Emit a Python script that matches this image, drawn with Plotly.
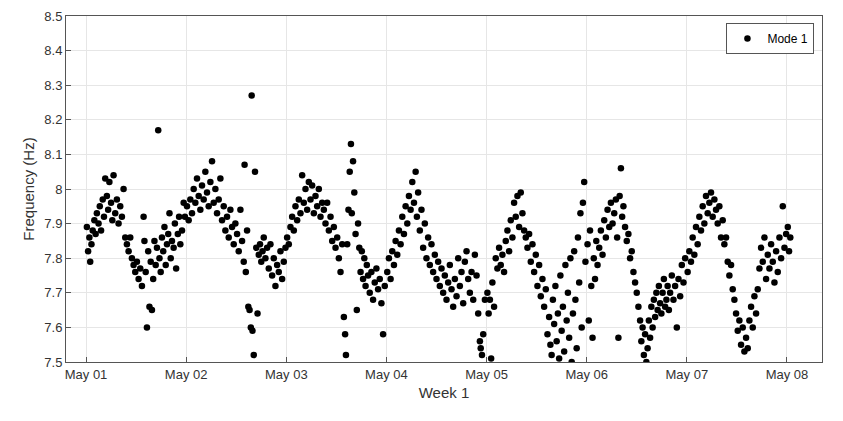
import pandas as pd
import plotly.graph_objects as go

# hours after midnight of each day, frequency in Hz
day1_h = [0.2, 0.5, 0.8, 1.0, 1.3, 1.6, 2.0, 2.3, 2.6, 3.0, 3.3, 3.6, 4.0, 4.3, 4.6, 5.0, 5.3, 5.6, 6.0, 6.3, 6.6, 7.0, 7.4, 7.8, 8.2, 8.6, 9.0, 9.4, 9.8, 10.2, 10.6, 11.0, 11.4, 11.8, 12.2, 12.6, 13.0, 13.4, 13.8, 14.0, 14.3, 14.6, 14.9, 15.2, 15.5, 15.8, 16.1, 16.4, 16.7, 17.0, 17.3, 17.6, 17.9, 18.2, 18.5, 18.8, 19.1, 19.4, 19.7, 20.0, 20.3, 20.6, 21.0, 21.3, 21.6, 22.0, 22.3, 22.6, 23.0, 23.4, 23.7]
day1_f = [7.89, 7.82, 7.86, 7.79, 7.84, 7.88, 7.91, 7.87, 7.93, 7.90, 7.95, 7.88, 7.97, 7.92, 8.03, 7.98, 7.94, 8.02, 7.96, 7.91, 8.04, 7.93, 7.97, 7.90, 7.95, 7.92, 8.00, 7.86, 7.84, 7.82, 7.86, 7.80, 7.78, 7.76, 7.79, 7.74, 7.77, 7.72, 7.92, 7.85, 7.76, 7.60, 7.82, 7.66, 7.79, 7.65, 7.74, 7.85, 7.78, 7.83, 8.17, 7.80, 7.76, 7.86, 7.82, 7.89, 7.78, 7.84, 7.87, 7.93, 7.80, 7.85, 7.83, 7.90, 7.77, 7.87, 7.92, 7.84, 7.88, 7.96, 7.92]

day2_h = [0.2, 0.6, 1.0, 1.4, 1.8, 2.2, 2.6, 3.0, 3.4, 3.8, 4.2, 4.6, 5.0, 5.4, 5.8, 6.2, 6.6, 7.0, 7.4, 7.8, 8.2, 8.6, 9.0, 9.4, 9.8, 10.2, 10.6, 11.0, 11.4, 11.8, 12.2, 12.6, 13.0, 13.4, 13.8, 14.0, 14.3, 14.6, 14.9, 15.2, 15.5, 15.7, 15.9, 16.2, 16.5, 16.8, 17.1, 17.4, 17.7, 18.0, 18.3, 18.6, 19.0, 19.4, 19.8, 20.2, 20.6, 21.0, 21.4, 21.8, 22.2, 22.6, 23.0, 23.4, 23.8]
day2_f = [7.95, 7.91, 7.97, 7.93, 8.00, 7.96, 8.03, 7.98, 7.94, 8.01, 7.97, 8.05, 7.99, 7.95, 8.02, 8.08, 7.96, 8.00, 7.93, 7.97, 8.03, 7.91, 7.95, 7.88, 7.92, 7.86, 7.94, 7.89, 7.84, 7.90, 7.87, 7.82, 7.94, 7.85, 7.79, 8.07, 7.76, 7.88, 7.66, 7.65, 7.60, 8.27, 7.59, 7.52, 8.05, 7.83, 7.64, 7.81, 7.84, 7.79, 7.82, 7.86, 7.80, 7.83, 7.77, 7.84, 7.75, 7.80, 7.72, 7.78, 7.76, 7.82, 7.74, 7.79, 7.83]

day3_h = [0.2, 0.6, 1.0, 1.4, 1.8, 2.2, 2.6, 3.0, 3.4, 3.8, 4.2, 4.6, 5.0, 5.4, 5.8, 6.2, 6.6, 7.0, 7.4, 7.8, 8.2, 8.6, 9.0, 9.4, 9.8, 10.2, 10.6, 11.0, 11.4, 11.8, 12.2, 12.6, 13.0, 13.4, 13.8, 14.1, 14.3, 14.6, 14.9, 15.2, 15.5, 15.7, 16.0, 16.3, 16.6, 16.9, 17.2, 17.5, 17.8, 18.1, 18.4, 18.7, 19.0, 19.3, 19.6, 20.0, 20.4, 20.8, 21.2, 21.6, 22.0, 22.4, 22.8, 23.2, 23.6]
day3_f = [7.86, 7.84, 7.89, 7.92, 7.88, 7.95, 7.91, 7.97, 7.93, 8.04, 7.96, 8.00, 7.94, 8.02, 7.97, 8.01, 7.93, 7.98, 7.95, 8.00, 7.92, 7.96, 7.94, 7.90, 7.96, 7.88, 7.92, 7.85, 7.89, 7.83, 7.86, 7.80, 7.76, 7.84, 7.63, 7.58, 7.52, 7.84, 7.94, 8.05, 8.13, 7.93, 8.08, 7.99, 7.87, 7.65, 7.90, 7.83, 7.76, 7.82, 7.74, 7.80, 7.72, 7.78, 7.75, 7.70, 7.76, 7.68, 7.73, 7.77, 7.71, 7.74, 7.67, 7.58, 7.72]

day4_h = [0.2, 0.6, 1.0, 1.4, 1.8, 2.2, 2.6, 3.0, 3.4, 3.8, 4.2, 4.6, 5.0, 5.4, 5.8, 6.2, 6.6, 7.0, 7.3, 7.6, 8.0, 8.4, 8.8, 9.2, 9.6, 10.0, 10.4, 10.8, 11.2, 11.6, 12.0, 12.4, 12.8, 13.2, 13.6, 14.0, 14.4, 14.8, 15.2, 15.6, 16.0, 16.4, 16.8, 17.2, 17.6, 18.0, 18.4, 18.8, 19.2, 19.6, 20.0, 20.4, 20.8, 21.2, 21.6, 22.0, 22.4, 22.6, 22.9, 23.2, 23.6]
day4_f = [7.76, 7.80, 7.74, 7.82, 7.78, 7.85, 7.81, 7.88, 7.84, 7.92, 7.87, 7.95, 7.90, 7.98, 7.94, 8.02, 7.96, 8.05, 7.92, 7.99, 7.88, 7.94, 7.83, 7.90, 7.80, 7.86, 7.78, 7.84, 7.76, 7.81, 7.74, 7.79, 7.72, 7.77, 7.70, 7.75, 7.68, 7.73, 7.78, 7.71, 7.66, 7.74, 7.69, 7.80, 7.72, 7.76, 7.67, 7.79, 7.82, 7.74, 7.70, 7.76, 7.68, 7.81, 7.75, 7.64, 7.56, 7.54, 7.52, 7.58, 7.68]

day5_h = [0.2, 0.5, 0.8, 1.1, 1.4, 1.8, 2.2, 2.6, 3.0, 3.4, 3.8, 4.2, 4.6, 5.0, 5.4, 5.8, 6.2, 6.6, 7.0, 7.4, 7.8, 8.2, 8.6, 9.0, 9.4, 9.8, 10.2, 10.6, 11.0, 11.4, 11.8, 12.2, 12.6, 13.0, 13.4, 13.8, 14.2, 14.6, 15.0, 15.3, 15.6, 15.9, 16.2, 16.5, 16.8, 17.1, 17.4, 17.7, 18.0, 18.3, 18.6, 18.9, 19.2, 19.5, 19.8, 20.1, 20.4, 20.7, 21.0, 21.3, 21.6, 21.9, 22.2, 22.5, 22.8, 23.1, 23.4, 23.7]
day5_f = [7.70, 7.64, 7.68, 7.51, 7.73, 7.66, 7.80, 7.77, 7.83, 7.78, 7.81, 7.76, 7.85, 7.88, 7.82, 7.91, 7.86, 7.96, 7.92, 7.98, 7.89, 7.99, 7.93, 7.88, 7.86, 7.83, 7.87, 7.79, 7.84, 7.76, 7.81, 7.72, 7.78, 7.69, 7.74, 7.66, 7.71, 7.58, 7.63, 7.55, 7.52, 7.68, 7.61, 7.72, 7.56, 7.64, 7.51, 7.75, 7.59, 7.66, 7.53, 7.78, 7.62, 7.70, 7.57, 7.80, 7.50, 7.64, 7.82, 7.68, 7.54, 7.86, 7.73, 7.93, 7.60, 7.96, 8.02, 7.79]

day6_h = [0.2, 0.5, 0.8, 1.1, 1.4, 1.7, 2.0, 2.3, 2.6, 3.0, 3.4, 3.8, 4.2, 4.6, 5.0, 5.4, 5.8, 6.2, 6.6, 7.0, 7.3, 7.6, 7.9, 8.2, 8.5, 8.8, 9.2, 9.6, 10.0, 10.4, 10.8, 11.2, 11.6, 12.0, 12.4, 12.8, 13.1, 13.4, 13.7, 14.0, 14.3, 14.6, 14.9, 15.2, 15.5, 15.8, 16.1, 16.4, 16.7, 17.0, 17.3, 17.6, 17.9, 18.2, 18.5, 18.8, 19.1, 19.4, 19.7, 20.0, 20.4, 20.8, 21.2, 21.6, 22.0, 22.4, 22.8, 23.2, 23.6]
day6_f = [7.84, 7.62, 7.88, 7.72, 7.57, 7.80, 7.74, 7.85, 7.78, 7.83, 7.88, 7.81, 7.91, 7.86, 7.94, 7.89, 7.96, 7.90, 7.93, 7.97, 7.86, 7.57, 7.98, 8.06, 7.92, 7.95, 7.89, 7.85, 7.87, 7.80, 7.82, 7.76, 7.73, 7.70, 7.66, 7.62, 7.56, 7.60, 7.52, 7.58, 7.50, 7.54, 7.62, 7.57, 7.66, 7.60, 7.68, 7.63, 7.70, 7.65, 7.72, 7.67, 7.64, 7.70, 7.74, 7.66, 7.68, 7.72, 7.65, 7.70, 7.75, 7.68, 7.72, 7.60, 7.74, 7.69, 7.78, 7.73, 7.80]

day7_h = [0.2, 0.6, 1.0, 1.4, 1.8, 2.2, 2.6, 3.0, 3.4, 3.8, 4.2, 4.6, 5.0, 5.4, 5.8, 6.2, 6.6, 7.0, 7.4, 7.8, 8.2, 8.6, 9.0, 9.4, 9.8, 10.2, 10.6, 11.0, 11.4, 11.8, 12.2, 12.6, 13.0, 13.4, 13.8, 14.2, 14.6, 15.0, 15.4, 15.8, 16.2, 16.6, 17.0, 17.4, 17.8, 18.2, 18.6, 19.0, 19.4, 19.8, 20.2, 20.6, 21.0, 21.4, 21.8, 22.2, 22.6, 23.0, 23.4, 23.8]
day7_f = [7.76, 7.82, 7.79, 7.86, 7.81, 7.89, 7.84, 7.92, 7.88, 7.95, 7.90, 7.98, 7.93, 7.96, 7.99, 7.92, 7.97, 7.94, 7.90, 7.95, 7.86, 7.91, 7.84, 7.86, 7.79, 7.75, 7.78, 7.71, 7.68, 7.64, 7.59, 7.62, 7.55, 7.60, 7.53, 7.57, 7.54, 7.62, 7.66, 7.60, 7.69, 7.64, 7.71, 7.77, 7.83, 7.79, 7.86, 7.74, 7.81, 7.77, 7.84, 7.79, 7.73, 7.82, 7.76, 7.86, 7.80, 7.95, 7.83, 7.87]

day8_h = [0.2, 0.5, 0.8]
day8_f = [7.89, 7.82, 7.86]

DAY_HOURS = [day1_h, day2_h, day3_h, day4_h, day5_h, day6_h, day7_h, day8_h]
DAY_FREQS = [day1_f, day2_f, day3_f, day4_f, day5_f, day6_f, day7_f, day8_f]

Y_TICKS = [7.5, 7.6, 7.7, 7.8, 7.9, 8.0, 8.1, 8.2, 8.3, 8.4, 8.5]
Y_LABELS = ["7.5", "7.6", "7.7", "7.8", "7.9", "8", "8.1", "8.2", "8.3", "8.4", "8.5"]
X_TICKS = pd.date_range("2020-05-01", "2020-05-08", freq="D")
X_LABELS = [d.strftime("May %d") for d in X_TICKS]

FONT = "Arial, Liberation Sans"

t0 = pd.Timestamp("2020-05-01")
times, freqs = [], []
for d, (hs, fs) in enumerate(zip(DAY_HOURS, DAY_FREQS)):
    times += [t0 + pd.Timedelta(days=d, hours=h) for h in hs]
    freqs += fs

fig = go.Figure(go.Scatter(
    x=times, y=freqs, mode="markers", name="Mode 1",
    marker=dict(color="black", size=6.5),
))

axis_common = dict(
    showline=True, linecolor="#555", linewidth=1, mirror=True,
    showgrid=True, gridcolor="#e6e6e6", ticks="inside", ticklen=5,
    tickcolor="#555", zeroline=False, automargin=False,
    tickfont=dict(family=FONT, size=13, color="#333"),
)
fig.update_xaxes(
    **axis_common,
    range=[t0 - pd.Timedelta(hours=4.8), t0 + pd.Timedelta(days=7, hours=8.4)],
    tickvals=X_TICKS, ticktext=X_LABELS,
    title=dict(text="Week 1", font=dict(family=FONT, size=15, color="#333"), standoff=6),
)
fig.update_yaxes(
    **axis_common,
    range=[7.5, 8.5], tickvals=Y_TICKS, ticktext=Y_LABELS,
    title=dict(text="Frequency (Hz)", font=dict(family=FONT, size=15, color="#333"), standoff=6),
)
fig.update_layout(
    width=843, height=421,
    margin=dict(l=58, r=29, t=8, b=67),
    plot_bgcolor="white", paper_bgcolor="white",
    showlegend=True,
    legend=dict(x=0.99, y=0.98, xanchor="right", yanchor="top",
                bordercolor="#555", borderwidth=1, bgcolor="white",
                font=dict(family=FONT, size=12, color="black")),
)

fig.write_html("out.html")
